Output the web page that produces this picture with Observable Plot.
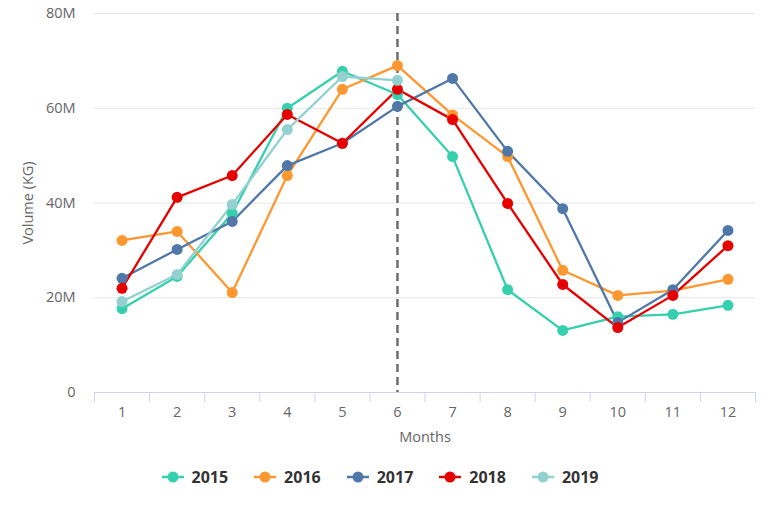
<!DOCTYPE html>
<html><head><meta charset="utf-8">
<script src="https://cdn.jsdelivr.net/npm/d3@7"></script>
<script src="https://cdn.jsdelivr.net/npm/@observablehq/plot@0.6"></script>
<style>
body{margin:0;background:#fff;font-family:"Open Sans",sans-serif;}
#chart svg g[aria-label$="axis"], #chart svg g[aria-label$="label"]{font-size:14.5px !important;}
#legend{display:flex;justify-content:center;align-items:center;height:44px;padding-right:8px;}
.item{display:flex;align-items:center;margin:0 13px;font-weight:bold;font-size:16px;color:#333;}
.item svg{margin-right:8px;}
</style></head><body>
<div id="chart"></div>
<div id="legend"></div>
<script>
const months = [1,2,3,4,5,6,7,8,9,10,11,12];
const years = ["2015","2016","2017","2018","2019"];
const colors = ["#36d0ae","#fd9730","#4f78a8","#e60000","#93d1d0"];
const v2015 = [17.7,24.5,37.8,60.0,67.8,62.9,49.8,21.7,13.1,16.0,16.5,18.4];
const v2016 = [32.1,34.0,21.1,45.8,64.0,69.0,58.6,49.8,25.8,20.5,21.5,23.9];
const v2017 = [24.1,30.2,36.1,47.9,52.6,60.4,66.3,50.9,38.8,14.8,21.7,34.2];
const v2018 = [22.0,41.2,45.8,58.7,52.6,64.0,57.6,39.9,22.8,13.7,20.5,31.0];
const v2019 = [19.2,24.9,39.7,55.5,66.7,65.9];
const yTicks = [0,20,40,60,80];
const markerMonth = 6;

const series = [v2015,v2016,v2017,v2018,v2019];
const data = [];
series.forEach((vals,i)=>vals.forEach((v,j)=>data.push({year:years[i],month:months[j],value:v})));
const bounds = months.map(m=>m-0.5).concat([months[months.length-1]+0.5]);

const chart = Plot.plot({
  width:768, height:455,
  marginLeft:94, marginRight:13, marginTop:13, marginBottom:63,
  style:{fontFamily:'"Open Sans",sans-serif',fontSize:"14.5px",color:"#666"},
  x:{domain:[0.5,12.5]},
  y:{domain:[0,80]},
  color:{domain:years,range:colors},
  marks:[
    Plot.gridY(yTicks.filter(d=>d>0),{stroke:"#e6e6e6",strokeOpacity:1}),
    Plot.axisY(yTicks,{tickSize:0,tickPadding:19,tickFormat:d=>d===0?"0":d+"M",fill:"#666",
      label:"Volume (KG)",labelAnchor:"center",labelOffset:72,labelArrow:"none"}),
    Plot.axisX(months,{tickSize:0,tickPadding:14,fill:"#666",label:"Months",labelAnchor:"center",labelOffset:49,labelArrow:"none"}),
    Plot.ruleX(bounds,{x:d=>d,y1:0,y2:0,insetBottom:-10,stroke:"#ccd6eb",strokeWidth:1}),
    Plot.ruleY([0],{stroke:"#ccd6eb",strokeWidth:1}),
    Plot.ruleX([markerMonth],{stroke:"#6e6e6e",strokeWidth:2.5,strokeDasharray:"8,5"}),
    Plot.line(data,{x:"month",y:"value",z:"year",stroke:"year",strokeWidth:2.3}),
    Plot.dot(data,{x:"month",y:"value",fill:"year",r:5.5})
  ]
});
document.getElementById("chart").appendChild(chart);

const leg=document.getElementById("legend");
years.forEach((y,i)=>{
  const it=document.createElement("div");it.className="item";
  it.innerHTML=`<svg width="22" height="12"><line x1="0" x2="22" y1="6" y2="6" stroke="${colors[i]}" stroke-width="2.5"/><circle cx="11" cy="6" r="5.5" fill="${colors[i]}"/></svg>${y}`;
  leg.appendChild(it);
});
</script>
</body></html>
